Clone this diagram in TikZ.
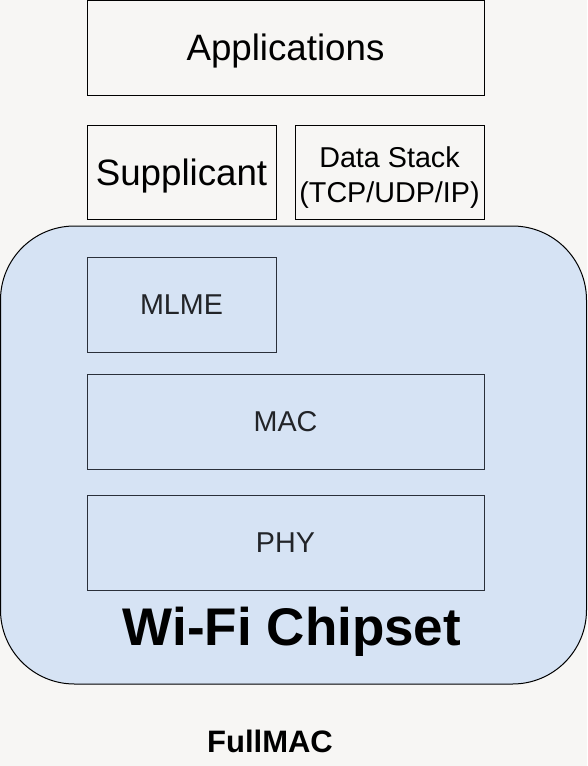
\documentclass[tikz,border=0pt]{standalone}
\usepackage{fontspec}
\setmainfont{Liberation Sans}
\definecolor{bgc}{HTML}{F7F6F4}
\definecolor{chipfill}{HTML}{D6E3F4}
\definecolor{ink}{HTML}{222428}
\definecolor{edge}{HTML}{2A303A}
\begin{document}
\begin{tikzpicture}[x=1pt,y=-1pt,
  topbox/.style={draw=black, line width=1pt, inner sep=0pt, text depth=0pt, text=black},
  inbox/.style={draw=edge, line width=1pt, inner sep=0pt, text height=20.5pt, text depth=0pt, text=ink,
    minimum height=95pt, font=\fontsize{28.7}{34}\selectfont},
  bigfont/.style={font=\fontsize{36.7}{44}\selectfont, text height=26.3pt}]
\fill[bgc] (0,0) rectangle (587,766);
\useasboundingbox (0,0) rectangle (587,766);

\node[topbox, bigfont, minimum width=397pt, minimum height=94.5pt] (app) at (285.5,47.75) {Applications};
\node[topbox, bigfont, minimum width=189pt, minimum height=94pt] (supp) at (181.5,172) {Supplicant};
\node[topbox, minimum width=189pt, minimum height=94pt] (stack) at (389.5,172) {};
\node[align=center, inner sep=0pt, font=\fontsize{28.7}{35}\selectfont] (stacktxt) at (389.5,178) {Data Stack\\(TCP/UDP/IP)};

\node[draw=black, line width=1pt, fill=chipfill, rounded corners=74pt, minimum width=586pt, minimum height=458pt] (chip) at (293.5,455) {};

\node[inbox, minimum width=189pt] (mlme) at (181.5,304.5) {MLME};
\node[inbox, minimum width=397pt] (mac) at (285.5,421.5) {MAC};
\node[inbox, minimum width=397pt] (phy) at (285.5,542.5) {PHY};

\node[inner sep=0pt, text height=38pt, text depth=0pt, font=\bfseries\fontsize{53}{60}\selectfont] (chiplbl) at (292,626.5) {Wi-Fi Chipset};
\node[inner sep=0pt, text height=22.2pt, text depth=0pt, font=\bfseries\fontsize{31}{36}\selectfont] (full) at (270,741.5) {FullMAC};
\end{tikzpicture}
\end{document}
